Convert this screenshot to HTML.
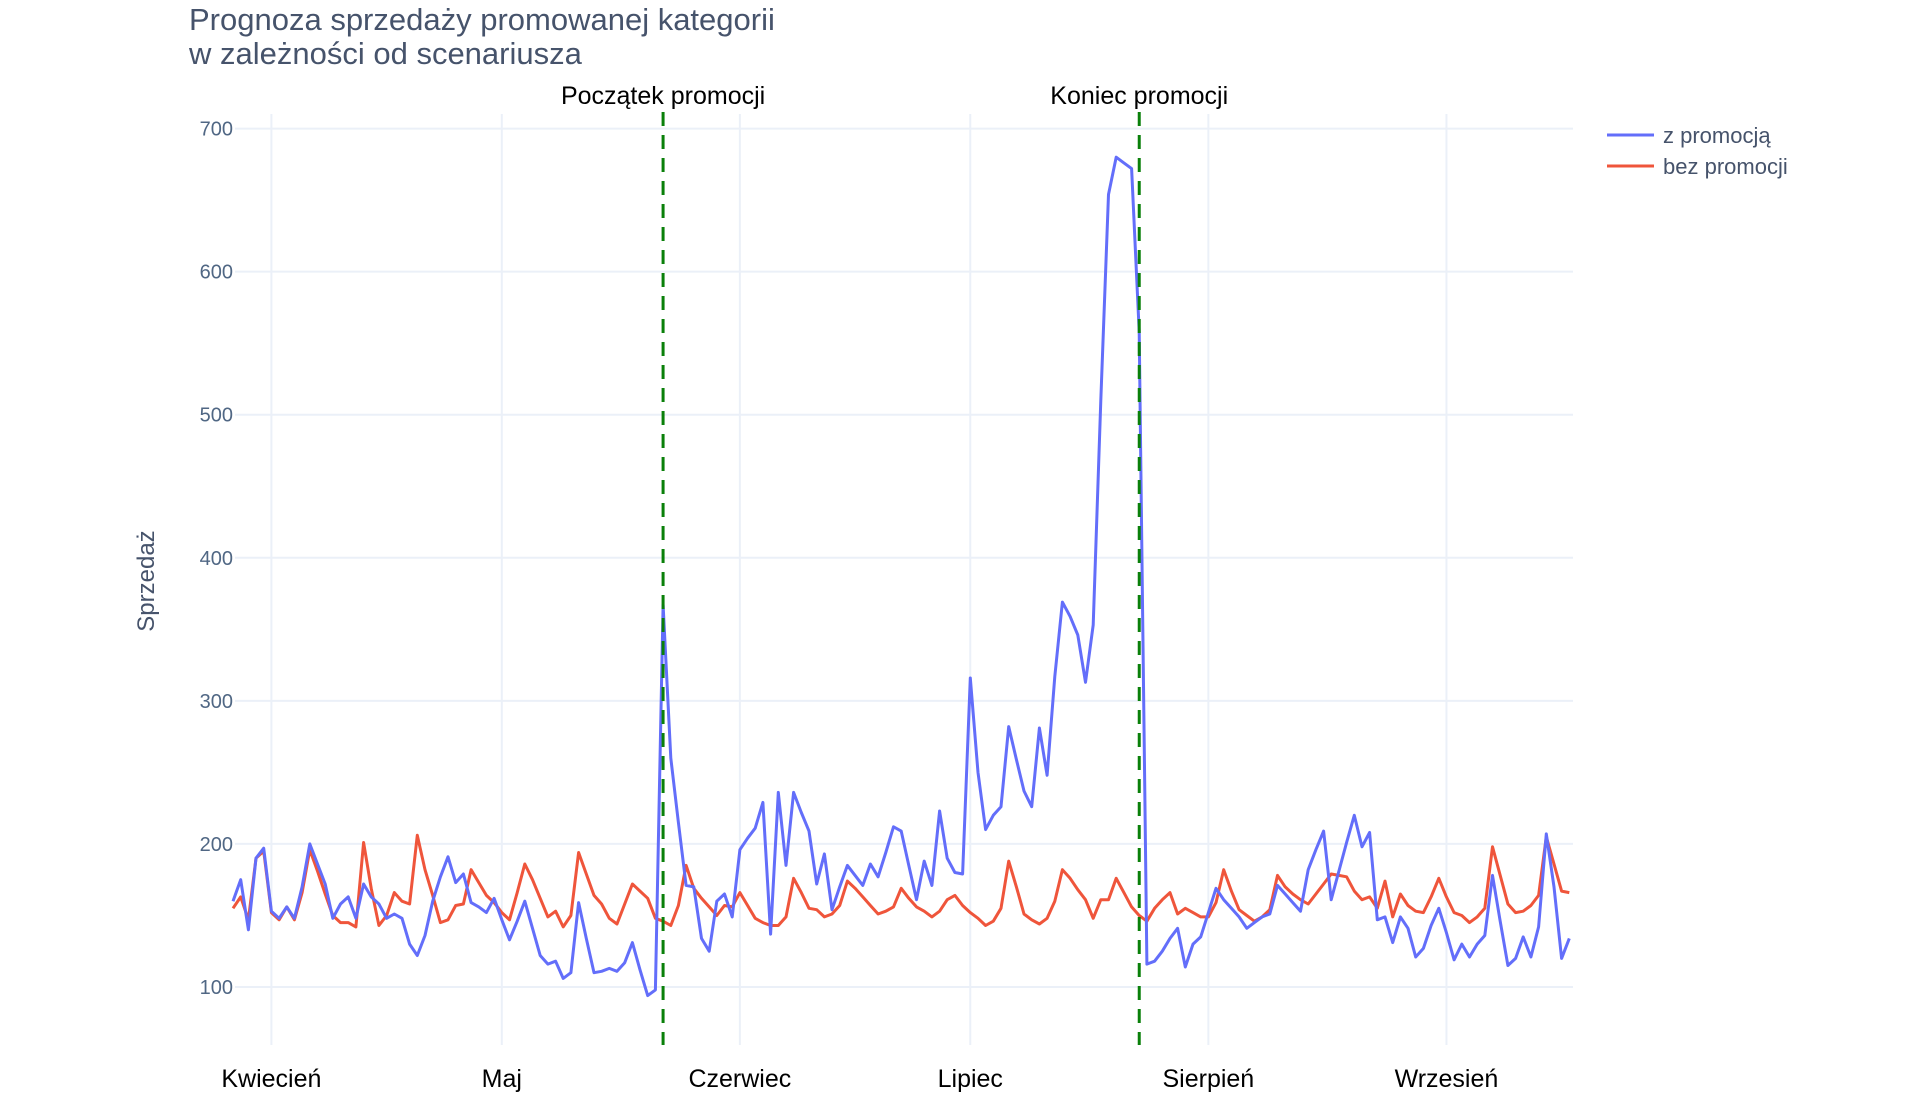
<!DOCTYPE html>
<html><head><meta charset="utf-8">
<style>
html,body{margin:0;padding:0;background:#fff;}
svg{display:block;}
</style></head>
<body>
<svg id="chart" width="1920" height="1120" viewBox="0 0 1920 1120" xmlns="http://www.w3.org/2000/svg">
  <text x="189" y="30" font-family="Liberation Sans, sans-serif" font-size="31" fill="#46536b">Prognoza sprzedaży promowanej kategorii</text>
  <text x="189" y="64" font-family="Liberation Sans, sans-serif" font-size="31" fill="#46536b">w zależności od scenariusza</text>
  <text x="154" y="581" transform="rotate(-90 154 581)" text-anchor="middle" font-family="Liberation Sans, sans-serif" font-size="24" fill="#46536b">Sprzedaż</text>
  <g id="grid"></g>
  <g id="series"></g>
  <g id="annot"></g>
  <g id="legend">
    <line x1="1607" y1="135" x2="1654" y2="135" stroke="#636efa" stroke-width="3"/>
    <text x="1663" y="143" font-family="Liberation Sans, sans-serif" font-size="22" fill="#46536b">z promocją</text>
    <line x1="1607" y1="166" x2="1654" y2="166" stroke="#ef553b" stroke-width="3"/>
    <text x="1663" y="174" font-family="Liberation Sans, sans-serif" font-size="22" fill="#46536b">bez promocji</text>
  </g>
</svg>
<script>
const withPromo = [160,175,140,190,197,153,148,156,148,170,
200,186,172,148,158,163,148,172,163,158,
148,151,148,130,122,136,160,177,191,173,
179,159,156,152,162,147,133,146,160,141,
122,116,118,106,110,159,134,110,111,113,
111,117,131,112,94,98,367,260,215,171,
170,134,125,160,165,149,196,204,211,229,
137,236,185,236,222,209,172,193,154,170,
185,178,171,186,177,194,212,209,185,161,
188,171,223,190,180,179,316,250,210,220,
226,282,259,237,226,281,248,317,369,359,
346,313,353,510,654,680,676,672,558,116,
118,125,134,141,114,130,135,152,169,161,
155,149,141,145,149,151,171,165,159,153,
182,196,209,161,181,201,220,198,208,147,
149,131,149,141,121,127,143,155,138,119,
130,121,130,136,178,146,115,120,135,121,
142,207,170,120,134];
const withoutPromo = [155,163,147,190,195,152,147,156,147,166,
196,181,165,150,145,145,142,201,169,143,
150,166,160,158,206,182,164,145,147,157,
158,182,173,164,159,152,147,166,186,175,
162,149,153,142,150,194,179,164,158,148,
144,158,172,167,162,148,146,143,157,185,
169,162,156,150,157,156,166,157,148,145,
143,143,149,176,166,155,154,149,151,157,
174,169,163,157,151,153,156,169,162,156,
153,149,153,161,164,157,152,148,143,146,
155,188,170,151,147,144,148,160,182,176,
168,161,148,161,161,176,166,156,150,146,
155,161,166,151,155,152,149,149,159,182,
167,154,150,146,149,154,178,170,165,161,
158,165,172,179,178,177,167,161,163,155,
174,149,165,157,153,152,163,176,163,152,
150,145,149,155,198,178,158,152,153,157,
164,205,186,167,166];
const yTicks = [100,200,300,400,500,600,700];
const monthLabels = ["Kwiecień","Maj","Czerwiec","Lipiec","Sierpień","Wrzesień"];
const monthDays = [5,35,66,96,127,158];   // day index since 27 March
const promoDays = [56,118];
const promoLabels = ["Początek promocji","Koniec promocji"];

const NS="http://www.w3.org/2000/svg";
const X0=233, DX=7.68, PLOT_L=235, PLOT_R=1573, PLOT_T=114, PLOT_B=1045;
function xs(d){return X0+d*DX;}
function ys(v){return 987-(v-100)*1.4307;}
function mk(tag,attrs,parent){const e=document.createElementNS(NS,tag);for(const k in attrs)e.setAttribute(k,attrs[k]);parent.appendChild(e);return e;}

const grid=document.getElementById('grid');
yTicks.forEach(t=>{
  const l=mk('line',{x1:PLOT_L,x2:PLOT_R,y1:ys(t),y2:ys(t),stroke:'#ebf0f8','stroke-width':2},grid);
  
  
  const tx=mk('text',{x:233,y:ys(t)+7,'text-anchor':'end','font-family':'Liberation Sans, sans-serif','font-size':20,fill:'#506784'},grid);
  tx.textContent=t;
  
  
});
monthDays.forEach((d,i)=>{
  const l=mk('line',{x1:xs(d),x2:xs(d),y1:PLOT_T,y2:PLOT_B,stroke:'#ebf0f8','stroke-width':2},grid);
  
  
  const tx=mk('text',{x:xs(d),y:1087,'text-anchor':'middle','font-family':'Liberation Sans, sans-serif','font-size':25,fill:'#000'},grid);
  tx.textContent=monthLabels[i];
  
  
});

const series=document.getElementById('series');
function line(data,color,name){
  const pts=data.map((v,i)=>xs(i).toFixed(1)+','+ys(v).toFixed(1)).join(' ');
  const p=mk('polyline',{points:pts,fill:'none',stroke:color,'stroke-width':3,'stroke-linejoin':'round'},series);
  
  
}
line(withoutPromo,'#ef553b','line-without-promo');
line(withPromo,'#636efa','line-with-promo');

const annot=document.getElementById('annot');
promoDays.forEach((d,i)=>{
  const l=mk('line',{x1:xs(d),x2:xs(d),y1:112,y2:1045,stroke:'#0a800a','stroke-width':3,'stroke-dasharray':'14,9'},annot);
  
  
  const tx=mk('text',{x:xs(d),y:104,'text-anchor':'middle','font-family':'Liberation Sans, sans-serif','font-size':25,fill:'#000'},annot);
  tx.textContent=promoLabels[i];
  
  
});
</script>
</body></html>
